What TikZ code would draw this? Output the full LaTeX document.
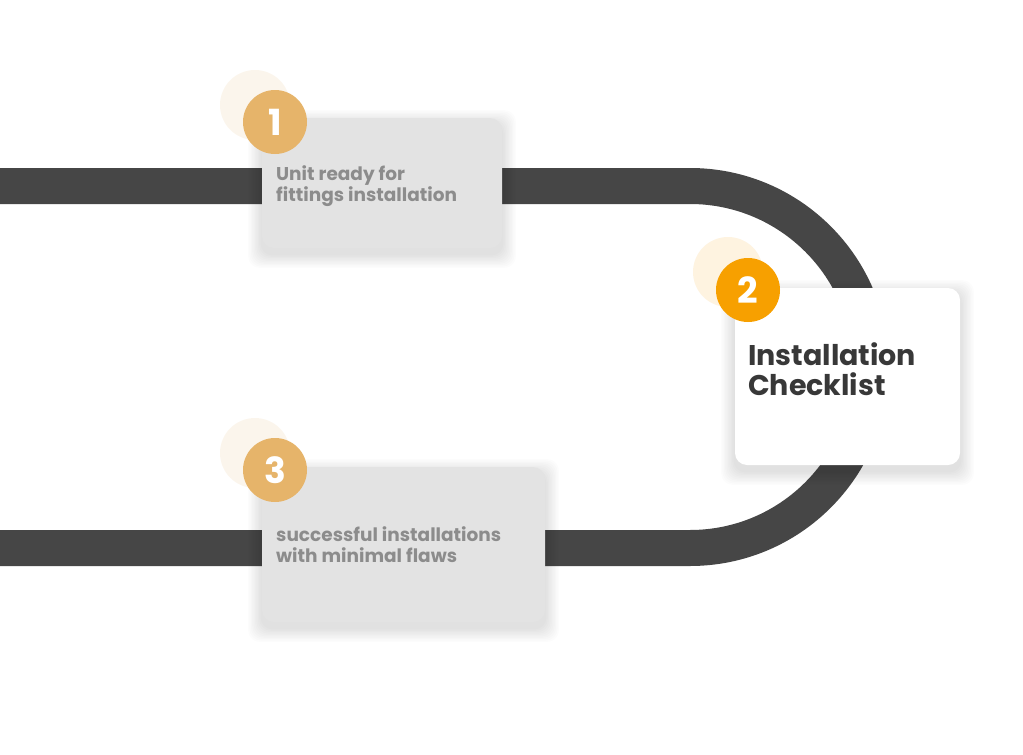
\documentclass[tikz,border=0pt]{standalone}
\usepackage{fontspec}
\setmainfont{Poppins}
\definecolor{track}{HTML}{464646}
\definecolor{boxgray}{HTML}{E3E3E3}
\definecolor{txtgray}{HTML}{8C8C8C}
\definecolor{numA}{HTML}{E6B46A}
\definecolor{numB}{HTML}{F7A000}
\newcommand{\softshadow}[4]{%
  \foreach \k in {1,...,10}{%
    \fill[black, opacity=0.012, rounded corners=12pt]
      ({#1-\k*1.4},{#2-\k*1.4+6}) rectangle ({#3+\k*1.4},{#4+\k*1.4+6});}}
\begin{document}
\begin{tikzpicture}[x=1pt,y=-1pt,
  card/.style={rounded corners=12pt},
  num/.style={circle, minimum size=64pt, inner sep=0pt, text=white, font=\bfseries\fontsize{36}{36}\selectfont},
  glow/.style={circle, minimum size=70pt, fill=numA, opacity=0.12},
  small/.style={text=txtgray, font=\bfseries\fontsize{18.5}{21}\selectfont, align=left, anchor=north west, inner sep=0pt},
  big/.style={text=track!80!black, font=\bfseries\fontsize{28.5}{30}\selectfont, align=left, anchor=north west, inner sep=0pt}]
\useasboundingbox (0,0) rectangle (1023,755);
\fill[white] (0,0) rectangle (1023,755);
% track
\draw[track, line width=36pt] (0,186) -- (690,186) arc[start angle=90, end angle=-90, x radius=181, y radius=-181] -- (0,548);
% box 1
\node[glow] (g1) at (255,105) {};
\softshadow{262}{118}{502}{248}
\fill[boxgray, card] (262,118) rectangle (502,248);
\node[small] (t1) at (276,165) {Unit ready for\\fittings installation};
\node[num, fill=numA] (n1) at (275,122) {1};
% box 2
\node[glow, fill=numB] (g2) at (728,272) {};
\softshadow{735}{288}{960}{465}
\fill[white, card] (735,288) rectangle (960,465);
\node[big] (t2) at (748,342) {Installation\\Checklist};
\node[num, fill=numB] (n2) at (748,290) {2};
% box 3
\node[glow] (g3) at (255,453) {};
\softshadow{262}{467}{545}{622}
\fill[boxgray, card] (262,467) rectangle (545,622);
\node[small] (t3) at (276,526) {successful installations\\with minimal flaws};
\node[num, fill=numA] (n3) at (275,470) {3};
\end{tikzpicture}
\end{document}
